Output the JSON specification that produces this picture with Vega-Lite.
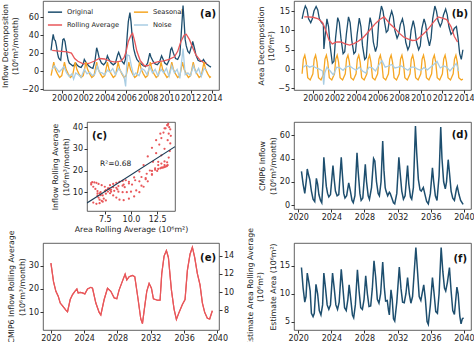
{
"$schema": "https://vega.github.io/schema/vega-lite/v6.json",
"background": "white",
"padding": {"left": 0, "top": 0, "right": 0, "bottom": 0},
"bounds": "flush",
"align": "each",
"center": true,
"columns": 2,
"spacing": {"row": 32, "column": 75},
"resolve": {"scale": {"color": "independent"}, "legend": {"color": "independent"}},
"config": {
 "view": {"stroke": "#3a3a3a", "strokeWidth": 0.8},
 "font": "DejaVu Sans",
 "axis": {"grid": false, "domain": false, "labelFont": "DejaVu Sans", "titleFont": "DejaVu Sans", "labelFontSize": 8, "titleFontSize": 7.8, "titleFontWeight": "normal", "tickSize": 3, "tickColor": "#333", "labelColor": "#222", "titleColor": "#222", "labelPadding": 1.5, "titlePadding": 2, "titleLineHeight": 10.5, "labelFlush": false, "labelOverlap": false}
},
"datasets": {
 "a": [
  {"s":"Original","t":1999.0,"v":23},{"s":"Original","t":1999.1,"v":33},{"s":"Original","t":1999.2,"v":41},{"s":"Original","t":1999.3,"v":35},{"s":"Original","t":1999.4,"v":34},{"s":"Original","t":1999.5,"v":28},{"s":"Original","t":1999.6,"v":20},{"s":"Original","t":1999.7,"v":15},{"s":"Original","t":1999.8,"v":13},{"s":"Original","t":1999.9,"v":12},
  {"s":"Original","t":2000.0,"v":24},{"s":"Original","t":2000.1,"v":35},{"s":"Original","t":2000.2,"v":36},{"s":"Original","t":2000.3,"v":33},{"s":"Original","t":2000.4,"v":25},{"s":"Original","t":2000.5,"v":18},{"s":"Original","t":2000.6,"v":12},{"s":"Original","t":2000.7,"v":9},{"s":"Original","t":2000.8,"v":8},{"s":"Original","t":2000.9,"v":7},
  {"s":"Original","t":2001.0,"v":6},{"s":"Original","t":2001.1,"v":6},{"s":"Original","t":2001.2,"v":8},{"s":"Original","t":2001.3,"v":9},{"s":"Original","t":2001.4,"v":7},{"s":"Original","t":2001.6,"v":5},{"s":"Original","t":2001.8,"v":4},
  {"s":"Original","t":2002.0,"v":8},{"s":"Original","t":2002.1,"v":13},{"s":"Original","t":2002.2,"v":11},{"s":"Original","t":2002.3,"v":9},{"s":"Original","t":2002.5,"v":6},{"s":"Original","t":2002.7,"v":4},{"s":"Original","t":2002.9,"v":3},
  {"s":"Original","t":2003.1,"v":12},{"s":"Original","t":2003.25,"v":26},{"s":"Original","t":2003.35,"v":22},{"s":"Original","t":2003.5,"v":14},{"s":"Original","t":2003.7,"v":9},{"s":"Original","t":2003.9,"v":7},
  {"s":"Original","t":2004.1,"v":10},{"s":"Original","t":2004.25,"v":17},{"s":"Original","t":2004.4,"v":13},{"s":"Original","t":2004.6,"v":9},{"s":"Original","t":2004.8,"v":7},
  {"s":"Original","t":2005.0,"v":9},{"s":"Original","t":2005.2,"v":18},{"s":"Original","t":2005.3,"v":21},{"s":"Original","t":2005.45,"v":16},{"s":"Original","t":2005.6,"v":11},{"s":"Original","t":2005.8,"v":8},{"s":"Original","t":2005.95,"v":14},
  {"s":"Original","t":2006.1,"v":40},{"s":"Original","t":2006.2,"v":55},{"s":"Original","t":2006.35,"v":65},{"s":"Original","t":2006.45,"v":55},{"s":"Original","t":2006.55,"v":40},{"s":"Original","t":2006.7,"v":25},{"s":"Original","t":2006.85,"v":18},
  {"s":"Original","t":2007.0,"v":13},{"s":"Original","t":2007.2,"v":10},{"s":"Original","t":2007.4,"v":8},{"s":"Original","t":2007.6,"v":6},{"s":"Original","t":2007.8,"v":5},
  {"s":"Original","t":2008.0,"v":9},{"s":"Original","t":2008.2,"v":20},{"s":"Original","t":2008.3,"v":16},{"s":"Original","t":2008.5,"v":11},{"s":"Original","t":2008.7,"v":8},{"s":"Original","t":2008.9,"v":7},
  {"s":"Original","t":2009.1,"v":10},{"s":"Original","t":2009.3,"v":17},{"s":"Original","t":2009.45,"v":13},{"s":"Original","t":2009.6,"v":9},{"s":"Original","t":2009.8,"v":7},
  {"s":"Original","t":2010.0,"v":12},{"s":"Original","t":2010.15,"v":24},{"s":"Original","t":2010.25,"v":26},{"s":"Original","t":2010.4,"v":20},{"s":"Original","t":2010.6,"v":14},{"s":"Original","t":2010.8,"v":13},
  {"s":"Original","t":2011.0,"v":18},{"s":"Original","t":2011.15,"v":45},{"s":"Original","t":2011.3,"v":73},{"s":"Original","t":2011.4,"v":55},{"s":"Original","t":2011.5,"v":35},{"s":"Original","t":2011.6,"v":28},{"s":"Original","t":2011.75,"v":22},{"s":"Original","t":2011.9,"v":20},
  {"s":"Original","t":2012.1,"v":28},{"s":"Original","t":2012.2,"v":33},{"s":"Original","t":2012.35,"v":26},{"s":"Original","t":2012.5,"v":18},{"s":"Original","t":2012.7,"v":12},{"s":"Original","t":2012.9,"v":11},
  {"s":"Original","t":2013.1,"v":11},{"s":"Original","t":2013.2,"v":13},{"s":"Original","t":2013.35,"v":10},{"s":"Original","t":2013.5,"v":8},{"s":"Original","t":2013.7,"v":6},{"s":"Original","t":2013.9,"v":4.5},
  {"s":"Rolling Average","t":1999.1,"v":23},{"s":"Rolling Average","t":1999.5,"v":22.5},{"s":"Rolling Average","t":2000.0,"v":22},{"s":"Rolling Average","t":2000.5,"v":21.5},{"s":"Rolling Average","t":2000.9,"v":20},{"s":"Rolling Average","t":2001.2,"v":14},{"s":"Rolling Average","t":2001.5,"v":11},{"s":"Rolling Average","t":2002.0,"v":8},{"s":"Rolling Average","t":2002.5,"v":8.5},{"s":"Rolling Average","t":2003.0,"v":11},{"s":"Rolling Average","t":2003.5,"v":14},{"s":"Rolling Average","t":2004.0,"v":13.5},{"s":"Rolling Average","t":2004.5,"v":11},{"s":"Rolling Average","t":2005.0,"v":10},{"s":"Rolling Average","t":2005.5,"v":11},{"s":"Rolling Average","t":2005.8,"v":15},{"s":"Rolling Average","t":2006.0,"v":22},{"s":"Rolling Average","t":2006.2,"v":33},{"s":"Rolling Average","t":2006.45,"v":40},{"s":"Rolling Average","t":2006.6,"v":42},{"s":"Rolling Average","t":2006.8,"v":33},{"s":"Rolling Average","t":2007.0,"v":22},{"s":"Rolling Average","t":2007.3,"v":12},{"s":"Rolling Average","t":2007.7,"v":6},{"s":"Rolling Average","t":2008.0,"v":6},{"s":"Rolling Average","t":2008.5,"v":9},{"s":"Rolling Average","t":2009.0,"v":10.5},{"s":"Rolling Average","t":2009.5,"v":11.5},{"s":"Rolling Average","t":2010.0,"v":13},{"s":"Rolling Average","t":2010.5,"v":16},{"s":"Rolling Average","t":2010.8,"v":22},{"s":"Rolling Average","t":2011.1,"v":33},{"s":"Rolling Average","t":2011.4,"v":40},{"s":"Rolling Average","t":2011.6,"v":41},{"s":"Rolling Average","t":2011.9,"v":35},{"s":"Rolling Average","t":2012.2,"v":26},{"s":"Rolling Average","t":2012.5,"v":18},{"s":"Rolling Average","t":2012.9,"v":12},{"s":"Rolling Average","t":2013.3,"v":9},{"s":"Rolling Average","t":2013.5,"v":8.5},
  {"s":"Seasonal","t":1999.0,"v":-5},{"s":"Seasonal","t":1999.12,"v":2},{"s":"Seasonal","t":1999.25,"v":10},{"s":"Seasonal","t":1999.4,"v":2},{"s":"Seasonal","t":1999.6,"v":-3},{"s":"Seasonal","t":1999.8,"v":-7},
  {"s":"Seasonal","t":2000.0,"v":-5},{"s":"Seasonal","t":2000.12,"v":2},{"s":"Seasonal","t":2000.25,"v":10},{"s":"Seasonal","t":2000.4,"v":2},{"s":"Seasonal","t":2000.6,"v":-3},{"s":"Seasonal","t":2000.8,"v":-7},
  {"s":"Seasonal","t":2001.0,"v":-5},{"s":"Seasonal","t":2001.12,"v":2},{"s":"Seasonal","t":2001.25,"v":10},{"s":"Seasonal","t":2001.4,"v":2},{"s":"Seasonal","t":2001.6,"v":-3},{"s":"Seasonal","t":2001.8,"v":-7},
  {"s":"Seasonal","t":2002.0,"v":-5},{"s":"Seasonal","t":2002.12,"v":2},{"s":"Seasonal","t":2002.25,"v":10},{"s":"Seasonal","t":2002.4,"v":2},{"s":"Seasonal","t":2002.6,"v":-3},{"s":"Seasonal","t":2002.8,"v":-7},
  {"s":"Seasonal","t":2003.0,"v":-5},{"s":"Seasonal","t":2003.12,"v":2},{"s":"Seasonal","t":2003.25,"v":10},{"s":"Seasonal","t":2003.4,"v":2},{"s":"Seasonal","t":2003.6,"v":-3},{"s":"Seasonal","t":2003.8,"v":-7},
  {"s":"Seasonal","t":2004.0,"v":-5},{"s":"Seasonal","t":2004.12,"v":2},{"s":"Seasonal","t":2004.25,"v":10},{"s":"Seasonal","t":2004.4,"v":2},{"s":"Seasonal","t":2004.6,"v":-3},{"s":"Seasonal","t":2004.8,"v":-7},
  {"s":"Seasonal","t":2005.0,"v":-5},{"s":"Seasonal","t":2005.12,"v":2},{"s":"Seasonal","t":2005.25,"v":10},{"s":"Seasonal","t":2005.4,"v":2},{"s":"Seasonal","t":2005.6,"v":-3},{"s":"Seasonal","t":2005.8,"v":-7},
  {"s":"Seasonal","t":2006.0,"v":-5},{"s":"Seasonal","t":2006.12,"v":2},{"s":"Seasonal","t":2006.25,"v":10},{"s":"Seasonal","t":2006.4,"v":2},{"s":"Seasonal","t":2006.6,"v":-3},{"s":"Seasonal","t":2006.8,"v":-7},
  {"s":"Seasonal","t":2007.0,"v":-5},{"s":"Seasonal","t":2007.12,"v":2},{"s":"Seasonal","t":2007.25,"v":10},{"s":"Seasonal","t":2007.4,"v":2},{"s":"Seasonal","t":2007.6,"v":-3},{"s":"Seasonal","t":2007.8,"v":-7},
  {"s":"Seasonal","t":2008.0,"v":-5},{"s":"Seasonal","t":2008.12,"v":2},{"s":"Seasonal","t":2008.25,"v":10},{"s":"Seasonal","t":2008.4,"v":2},{"s":"Seasonal","t":2008.6,"v":-3},{"s":"Seasonal","t":2008.8,"v":-7},
  {"s":"Seasonal","t":2009.0,"v":-5},{"s":"Seasonal","t":2009.12,"v":2},{"s":"Seasonal","t":2009.25,"v":10},{"s":"Seasonal","t":2009.4,"v":2},{"s":"Seasonal","t":2009.6,"v":-3},{"s":"Seasonal","t":2009.8,"v":-7},
  {"s":"Seasonal","t":2010.0,"v":-5},{"s":"Seasonal","t":2010.12,"v":2},{"s":"Seasonal","t":2010.25,"v":10},{"s":"Seasonal","t":2010.4,"v":2},{"s":"Seasonal","t":2010.6,"v":-3},{"s":"Seasonal","t":2010.8,"v":-7},
  {"s":"Seasonal","t":2011.0,"v":-5},{"s":"Seasonal","t":2011.12,"v":2},{"s":"Seasonal","t":2011.25,"v":10},{"s":"Seasonal","t":2011.4,"v":2},{"s":"Seasonal","t":2011.6,"v":-3},{"s":"Seasonal","t":2011.8,"v":-7},
  {"s":"Seasonal","t":2012.0,"v":-5},{"s":"Seasonal","t":2012.12,"v":2},{"s":"Seasonal","t":2012.25,"v":10},{"s":"Seasonal","t":2012.4,"v":2},{"s":"Seasonal","t":2012.6,"v":-3},{"s":"Seasonal","t":2012.8,"v":-7},
  {"s":"Seasonal","t":2013.0,"v":-5},{"s":"Seasonal","t":2013.12,"v":2},{"s":"Seasonal","t":2013.25,"v":10},{"s":"Seasonal","t":2013.4,"v":2},{"s":"Seasonal","t":2013.6,"v":-3},{"s":"Seasonal","t":2013.8,"v":-7},{"s":"Seasonal","t":2013.9,"v":-6},
  {"s":"Noise","t":1999.1,"v":2},{"s":"Noise","t":1999.3,"v":6},{"s":"Noise","t":1999.5,"v":3},{"s":"Noise","t":1999.75,"v":-1},{"s":"Noise","t":2000.0,"v":2},{"s":"Noise","t":2000.2,"v":5},{"s":"Noise","t":2000.45,"v":-2},{"s":"Noise","t":2000.7,"v":-6},{"s":"Noise","t":2000.95,"v":-3},{"s":"Noise","t":2001.1,"v":-9},{"s":"Noise","t":2001.3,"v":-2},{"s":"Noise","t":2001.55,"v":-4},{"s":"Noise","t":2001.8,"v":-7},{"s":"Noise","t":2002.1,"v":2},{"s":"Noise","t":2002.35,"v":-3},{"s":"Noise","t":2002.6,"v":-1},{"s":"Noise","t":2002.85,"v":-5},{"s":"Noise","t":2003.1,"v":-3},{"s":"Noise","t":2003.3,"v":6},{"s":"Noise","t":2003.5,"v":-1},{"s":"Noise","t":2003.75,"v":-2},{"s":"Noise","t":2004.0,"v":-4},{"s":"Noise","t":2004.25,"v":1},{"s":"Noise","t":2004.5,"v":-1},{"s":"Noise","t":2004.75,"v":3},{"s":"Noise","t":2005.0,"v":-4},{"s":"Noise","t":2005.3,"v":3},{"s":"Noise","t":2005.55,"v":-1},{"s":"Noise","t":2005.8,"v":-6},{"s":"Noise","t":2005.95,"v":-17},{"s":"Noise","t":2006.1,"v":18},{"s":"Noise","t":2006.3,"v":17},{"s":"Noise","t":2006.5,"v":5},{"s":"Noise","t":2006.7,"v":-5},{"s":"Noise","t":2006.9,"v":-2},{"s":"Noise","t":2007.2,"v":-5},{"s":"Noise","t":2007.45,"v":3},{"s":"Noise","t":2007.7,"v":1},{"s":"Noise","t":2007.95,"v":-4},{"s":"Noise","t":2008.2,"v":5},{"s":"Noise","t":2008.45,"v":-2},{"s":"Noise","t":2008.7,"v":2},{"s":"Noise","t":2008.95,"v":-5},{"s":"Noise","t":2009.25,"v":2},{"s":"Noise","t":2009.5,"v":-2},{"s":"Noise","t":2009.75,"v":3},{"s":"Noise","t":2010.0,"v":-6},{"s":"Noise","t":2010.25,"v":6},{"s":"Noise","t":2010.5,"v":-2},{"s":"Noise","t":2010.75,"v":2},{"s":"Noise","t":2011.0,"v":-8},{"s":"Noise","t":2011.3,"v":25},{"s":"Noise","t":2011.5,"v":-4},{"s":"Noise","t":2011.75,"v":-2},{"s":"Noise","t":2012.0,"v":-5},{"s":"Noise","t":2012.25,"v":6},{"s":"Noise","t":2012.5,"v":-2},{"s":"Noise","t":2012.75,"v":3},{"s":"Noise","t":2013.0,"v":-6},{"s":"Noise","t":2013.25,"v":3},{"s":"Noise","t":2013.5,"v":1}
 ],
 "b": [
  {"s":"Original","t":1999.0,"v":13},{"s":"Original","t":1999.15,"v":15},{"s":"Original","t":1999.3,"v":16.3},{"s":"Original","t":1999.45,"v":15.5},{"s":"Original","t":1999.6,"v":13},{"s":"Original","t":1999.8,"v":12},{"s":"Original","t":1999.95,"v":13},
  {"s":"Original","t":2000.1,"v":15},{"s":"Original","t":2000.3,"v":16.2},{"s":"Original","t":2000.45,"v":15.3},{"s":"Original","t":2000.6,"v":13},{"s":"Original","t":2000.8,"v":12},{"s":"Original","t":2000.97,"v":11.5},{"s":"Original","t":2001.02,"v":5.2},
  {"s":"Original","t":2001.15,"v":9},{"s":"Original","t":2001.3,"v":13},{"s":"Original","t":2001.45,"v":11},{"s":"Original","t":2001.6,"v":6},{"s":"Original","t":2001.8,"v":1.5},{"s":"Original","t":2001.95,"v":2},
  {"s":"Original","t":2002.1,"v":8},{"s":"Original","t":2002.3,"v":13.3},{"s":"Original","t":2002.45,"v":12},{"s":"Original","t":2002.6,"v":8},{"s":"Original","t":2002.8,"v":4},{"s":"Original","t":2002.95,"v":4.5},
  {"s":"Original","t":2003.1,"v":9},{"s":"Original","t":2003.3,"v":13.5},{"s":"Original","t":2003.45,"v":12},{"s":"Original","t":2003.6,"v":7.5},{"s":"Original","t":2003.8,"v":4},{"s":"Original","t":2003.95,"v":4.5},
  {"s":"Original","t":2004.1,"v":9},{"s":"Original","t":2004.3,"v":13.2},{"s":"Original","t":2004.45,"v":11},{"s":"Original","t":2004.6,"v":6},{"s":"Original","t":2004.8,"v":2.5},{"s":"Original","t":2004.95,"v":3},
  {"s":"Original","t":2005.1,"v":9},{"s":"Original","t":2005.3,"v":13.3},{"s":"Original","t":2005.45,"v":11.5},{"s":"Original","t":2005.6,"v":7},{"s":"Original","t":2005.8,"v":4.5},{"s":"Original","t":2005.95,"v":6},
  {"s":"Original","t":2006.1,"v":12},{"s":"Original","t":2006.35,"v":16.3},{"s":"Original","t":2006.5,"v":15},{"s":"Original","t":2006.65,"v":12},{"s":"Original","t":2006.8,"v":9.5},{"s":"Original","t":2006.95,"v":10},
  {"s":"Original","t":2007.1,"v":13},{"s":"Original","t":2007.3,"v":15},{"s":"Original","t":2007.45,"v":13.5},{"s":"Original","t":2007.6,"v":10},{"s":"Original","t":2007.8,"v":8},{"s":"Original","t":2007.95,"v":9},
  {"s":"Original","t":2008.1,"v":11.5},{"s":"Original","t":2008.3,"v":13},{"s":"Original","t":2008.45,"v":11},{"s":"Original","t":2008.6,"v":7},{"s":"Original","t":2008.8,"v":5},{"s":"Original","t":2008.95,"v":6},
  {"s":"Original","t":2009.1,"v":10},{"s":"Original","t":2009.3,"v":12.5},{"s":"Original","t":2009.45,"v":10.5},{"s":"Original","t":2009.6,"v":7},{"s":"Original","t":2009.8,"v":5},{"s":"Original","t":2009.95,"v":6},
  {"s":"Original","t":2010.1,"v":10.5},{"s":"Original","t":2010.3,"v":13},{"s":"Original","t":2010.45,"v":11.5},{"s":"Original","t":2010.6,"v":8.5},{"s":"Original","t":2010.8,"v":6},{"s":"Original","t":2010.95,"v":8},
  {"s":"Original","t":2011.1,"v":13},{"s":"Original","t":2011.3,"v":16.3},{"s":"Original","t":2011.45,"v":15},{"s":"Original","t":2011.6,"v":12.5},{"s":"Original","t":2011.8,"v":11},{"s":"Original","t":2011.95,"v":12},
  {"s":"Original","t":2012.1,"v":14},{"s":"Original","t":2012.3,"v":15.5},{"s":"Original","t":2012.45,"v":14},{"s":"Original","t":2012.6,"v":11},{"s":"Original","t":2012.8,"v":9},{"s":"Original","t":2012.95,"v":9.5},
  {"s":"Original","t":2013.1,"v":10.5},{"s":"Original","t":2013.3,"v":11},{"s":"Original","t":2013.45,"v":8},{"s":"Original","t":2013.6,"v":4},{"s":"Original","t":2013.75,"v":2.5},{"s":"Original","t":2013.9,"v":5},
  {"s":"Rolling Average","t":1999.2,"v":13.5},{"s":"Rolling Average","t":1999.5,"v":13.5},{"s":"Rolling Average","t":2000.0,"v":13.4},{"s":"Rolling Average","t":2000.5,"v":13},{"s":"Rolling Average","t":2000.9,"v":12},{"s":"Rolling Average","t":2001.2,"v":10},{"s":"Rolling Average","t":2001.5,"v":7.5},{"s":"Rolling Average","t":2001.8,"v":6.5},{"s":"Rolling Average","t":2002.2,"v":7},{"s":"Rolling Average","t":2002.6,"v":7},{"s":"Rolling Average","t":2003.0,"v":6.5},{"s":"Rolling Average","t":2003.4,"v":6.2},{"s":"Rolling Average","t":2003.8,"v":6.6},{"s":"Rolling Average","t":2004.2,"v":7.2},{"s":"Rolling Average","t":2004.6,"v":8},{"s":"Rolling Average","t":2005.0,"v":9.2},{"s":"Rolling Average","t":2005.4,"v":10.5},{"s":"Rolling Average","t":2005.8,"v":11.8},{"s":"Rolling Average","t":2006.2,"v":12.8},{"s":"Rolling Average","t":2006.6,"v":13.5},{"s":"Rolling Average","t":2006.9,"v":12.5},{"s":"Rolling Average","t":2007.2,"v":11.5},{"s":"Rolling Average","t":2007.6,"v":10.5},{"s":"Rolling Average","t":2008.0,"v":9.3},{"s":"Rolling Average","t":2008.4,"v":8.3},{"s":"Rolling Average","t":2008.8,"v":7.8},{"s":"Rolling Average","t":2009.2,"v":7.4},{"s":"Rolling Average","t":2009.6,"v":7.5},{"s":"Rolling Average","t":2010.0,"v":8.5},{"s":"Rolling Average","t":2010.4,"v":9.5},{"s":"Rolling Average","t":2010.8,"v":10.8},{"s":"Rolling Average","t":2011.2,"v":12.2},{"s":"Rolling Average","t":2011.6,"v":13.5},{"s":"Rolling Average","t":2012.0,"v":13.2},{"s":"Rolling Average","t":2012.4,"v":12.8},{"s":"Rolling Average","t":2012.8,"v":11},{"s":"Rolling Average","t":2013.1,"v":8.5},{"s":"Rolling Average","t":2013.4,"v":7},
  {"s":"Seasonal","t":1999.0,"v":-1.2},{"s":"Seasonal","t":1999.12,"v":2.6},{"s":"Seasonal","t":1999.25,"v":3.6},{"s":"Seasonal","t":1999.38,"v":1.8},{"s":"Seasonal","t":1999.52,"v":-2.2},{"s":"Seasonal","t":1999.75,"v":-2.8},
  {"s":"Seasonal","t":2000.0,"v":-1.2},{"s":"Seasonal","t":2000.12,"v":2.6},{"s":"Seasonal","t":2000.25,"v":3.6},{"s":"Seasonal","t":2000.38,"v":1.8},{"s":"Seasonal","t":2000.52,"v":-2.2},{"s":"Seasonal","t":2000.75,"v":-2.8},
  {"s":"Seasonal","t":2001.0,"v":-1.2},{"s":"Seasonal","t":2001.12,"v":2.6},{"s":"Seasonal","t":2001.25,"v":3.6},{"s":"Seasonal","t":2001.38,"v":1.8},{"s":"Seasonal","t":2001.52,"v":-2.2},{"s":"Seasonal","t":2001.75,"v":-2.8},
  {"s":"Seasonal","t":2002.0,"v":-1.2},{"s":"Seasonal","t":2002.12,"v":2.6},{"s":"Seasonal","t":2002.25,"v":3.6},{"s":"Seasonal","t":2002.38,"v":1.8},{"s":"Seasonal","t":2002.52,"v":-2.2},{"s":"Seasonal","t":2002.75,"v":-2.8},
  {"s":"Seasonal","t":2003.0,"v":-1.2},{"s":"Seasonal","t":2003.12,"v":2.6},{"s":"Seasonal","t":2003.25,"v":3.6},{"s":"Seasonal","t":2003.38,"v":1.8},{"s":"Seasonal","t":2003.52,"v":-2.2},{"s":"Seasonal","t":2003.75,"v":-2.8},
  {"s":"Seasonal","t":2004.0,"v":-1.2},{"s":"Seasonal","t":2004.12,"v":2.6},{"s":"Seasonal","t":2004.25,"v":3.6},{"s":"Seasonal","t":2004.38,"v":1.8},{"s":"Seasonal","t":2004.52,"v":-2.2},{"s":"Seasonal","t":2004.75,"v":-2.8},
  {"s":"Seasonal","t":2005.0,"v":-1.2},{"s":"Seasonal","t":2005.12,"v":2.6},{"s":"Seasonal","t":2005.25,"v":3.6},{"s":"Seasonal","t":2005.38,"v":1.8},{"s":"Seasonal","t":2005.52,"v":-2.2},{"s":"Seasonal","t":2005.75,"v":-2.8},
  {"s":"Seasonal","t":2006.0,"v":-1.2},{"s":"Seasonal","t":2006.12,"v":2.6},{"s":"Seasonal","t":2006.25,"v":3.6},{"s":"Seasonal","t":2006.38,"v":1.8},{"s":"Seasonal","t":2006.52,"v":-2.2},{"s":"Seasonal","t":2006.75,"v":-2.8},
  {"s":"Seasonal","t":2007.0,"v":-1.2},{"s":"Seasonal","t":2007.12,"v":2.6},{"s":"Seasonal","t":2007.25,"v":3.6},{"s":"Seasonal","t":2007.38,"v":1.8},{"s":"Seasonal","t":2007.52,"v":-2.2},{"s":"Seasonal","t":2007.75,"v":-2.8},
  {"s":"Seasonal","t":2008.0,"v":-1.2},{"s":"Seasonal","t":2008.12,"v":2.6},{"s":"Seasonal","t":2008.25,"v":3.6},{"s":"Seasonal","t":2008.38,"v":1.8},{"s":"Seasonal","t":2008.52,"v":-2.2},{"s":"Seasonal","t":2008.75,"v":-2.8},
  {"s":"Seasonal","t":2009.0,"v":-1.2},{"s":"Seasonal","t":2009.12,"v":2.6},{"s":"Seasonal","t":2009.25,"v":3.6},{"s":"Seasonal","t":2009.38,"v":1.8},{"s":"Seasonal","t":2009.52,"v":-2.2},{"s":"Seasonal","t":2009.75,"v":-2.8},
  {"s":"Seasonal","t":2010.0,"v":-1.2},{"s":"Seasonal","t":2010.12,"v":2.6},{"s":"Seasonal","t":2010.25,"v":3.6},{"s":"Seasonal","t":2010.38,"v":1.8},{"s":"Seasonal","t":2010.52,"v":-2.2},{"s":"Seasonal","t":2010.75,"v":-2.8},
  {"s":"Seasonal","t":2011.0,"v":-1.2},{"s":"Seasonal","t":2011.12,"v":2.6},{"s":"Seasonal","t":2011.25,"v":3.6},{"s":"Seasonal","t":2011.38,"v":1.8},{"s":"Seasonal","t":2011.52,"v":-2.2},{"s":"Seasonal","t":2011.75,"v":-2.8},
  {"s":"Seasonal","t":2012.0,"v":-1.2},{"s":"Seasonal","t":2012.12,"v":2.6},{"s":"Seasonal","t":2012.25,"v":3.6},{"s":"Seasonal","t":2012.38,"v":1.8},{"s":"Seasonal","t":2012.52,"v":-2.2},{"s":"Seasonal","t":2012.75,"v":-2.8},
  {"s":"Seasonal","t":2013.0,"v":-1.2},{"s":"Seasonal","t":2013.12,"v":2.6},{"s":"Seasonal","t":2013.25,"v":3.6},{"s":"Seasonal","t":2013.38,"v":1.8},{"s":"Seasonal","t":2013.52,"v":-2.2},{"s":"Seasonal","t":2013.75,"v":-2.8},{"s":"Seasonal","t":2013.9,"v":-2.6},
  {"s":"Noise","t":1999.1,"v":0.5},{"s":"Noise","t":1999.4,"v":1},{"s":"Noise","t":1999.7,"v":0.5},{"s":"Noise","t":2000.0,"v":0.8},{"s":"Noise","t":2000.3,"v":0.3},{"s":"Noise","t":2000.6,"v":0},{"s":"Noise","t":2000.9,"v":-0.5},{"s":"Noise","t":2001.0,"v":-4},{"s":"Noise","t":2001.1,"v":-1},{"s":"Noise","t":2001.3,"v":0.5},{"s":"Noise","t":2001.6,"v":-0.5},{"s":"Noise","t":2001.9,"v":-1.5},{"s":"Noise","t":2002.2,"v":0.5},{"s":"Noise","t":2002.5,"v":0.3},{"s":"Noise","t":2002.8,"v":-0.3},{"s":"Noise","t":2003.1,"v":0.6},{"s":"Noise","t":2003.4,"v":0.8},{"s":"Noise","t":2003.7,"v":0.2},{"s":"Noise","t":2004.0,"v":-0.3},{"s":"Noise","t":2004.3,"v":0.5},{"s":"Noise","t":2004.6,"v":-0.5},{"s":"Noise","t":2004.9,"v":-1},{"s":"Noise","t":2005.2,"v":0.5},{"s":"Noise","t":2005.5,"v":0.3},{"s":"Noise","t":2005.8,"v":-0.5},{"s":"Noise","t":2006.1,"v":1},{"s":"Noise","t":2006.4,"v":2.2},{"s":"Noise","t":2006.7,"v":0.5},{"s":"Noise","t":2007.0,"v":0.8},{"s":"Noise","t":2007.3,"v":1.2},{"s":"Noise","t":2007.6,"v":0.3},{"s":"Noise","t":2007.9,"v":0.5},{"s":"Noise","t":2008.2,"v":0.8},{"s":"Noise","t":2008.5,"v":0.2},{"s":"Noise","t":2008.8,"v":-0.3},{"s":"Noise","t":2009.1,"v":0.5},{"s":"Noise","t":2009.4,"v":0.5},{"s":"Noise","t":2009.7,"v":0},{"s":"Noise","t":2010.0,"v":-0.3},{"s":"Noise","t":2010.3,"v":0.4},{"s":"Noise","t":2010.6,"v":-0.2},{"s":"Noise","t":2010.9,"v":0.5},{"s":"Noise","t":2011.2,"v":1.2},{"s":"Noise","t":2011.5,"v":2},{"s":"Noise","t":2011.8,"v":0.3},{"s":"Noise","t":2012.1,"v":0.8},{"s":"Noise","t":2012.4,"v":0.5},{"s":"Noise","t":2012.7,"v":-0.5},{"s":"Noise","t":2013.0,"v":0.5},{"s":"Noise","t":2013.3,"v":1.5},{"s":"Noise","t":2013.5,"v":-0.5}
 ],
 "c": [
  {"x":13.5,"y":22.5},{"x":13.45,"y":22.3},{"x":13.4,"y":22},{"x":13.3,"y":21.8},{"x":13.2,"y":21.6},{"x":13.1,"y":21.5},{"x":13.0,"y":21.3},{"x":12.8,"y":21},{"x":12.6,"y":20.7},{"x":12.3,"y":20.3},{"x":12.0,"y":19.8},
  {"x":11.5,"y":18.5},{"x":11.0,"y":17},{"x":10.4,"y":15.5},{"x":9.8,"y":14},{"x":9.2,"y":13},{"x":8.6,"y":12},{"x":8.0,"y":11},{"x":7.5,"y":10.5},{"x":7.1,"y":10},{"x":6.8,"y":9.5},
  {"x":6.8,"y":8.5},{"x":6.9,"y":7.5},{"x":7.0,"y":6.5},{"x":7.2,"y":6},{"x":7.4,"y":7},{"x":7.3,"y":8.5},{"x":7.0,"y":9.5},{"x":6.8,"y":10.5},{"x":6.6,"y":11.5},{"x":6.4,"y":12.5},{"x":6.2,"y":13.5},{"x":6.2,"y":14.2},{"x":6.3,"y":14.6},{"x":6.5,"y":14.5},
  {"x":6.4,"y":5.2},{"x":6.7,"y":4.6},{"x":7.0,"y":4.9},{"x":7.3,"y":5.6},{"x":7.6,"y":6.2},
  {"x":6.7,"y":14.3},{"x":6.9,"y":13.8},{"x":7.2,"y":13.2},{"x":7.5,"y":12.5},{"x":7.8,"y":11.8},{"x":8.1,"y":11.2},{"x":8.4,"y":10.6},{"x":8.8,"y":10.2},{"x":9.2,"y":10},{"x":9.6,"y":10},{"x":10.0,"y":10.2},{"x":10.5,"y":10.8},
  {"x":8.0,"y":13.2},{"x":8.3,"y":13.8},{"x":8.6,"y":14.3},{"x":8.9,"y":14.8},{"x":9.2,"y":15.2},{"x":9.5,"y":15.5},
  {"x":11.0,"y":13},{"x":11.4,"y":16},{"x":11.8,"y":20},{"x":12.1,"y":24},{"x":12.4,"y":28},{"x":12.7,"y":32},{"x":12.9,"y":35},{"x":13.1,"y":37.5},{"x":13.3,"y":39.5},{"x":13.45,"y":41},{"x":13.55,"y":41.5},
  {"x":13.65,"y":40},{"x":13.6,"y":37},{"x":13.5,"y":34},{"x":13.2,"y":30},{"x":12.9,"y":27},{"x":12.6,"y":24},{"x":12.3,"y":21},{"x":12.0,"y":18},{"x":11.6,"y":15},{"x":11.2,"y":12.5},{"x":10.8,"y":10},{"x":10.3,"y":8},{"x":9.8,"y":7},{"x":9.3,"y":6.3},{"x":8.9,"y":6.5},
  {"x":8.6,"y":7.5},{"x":8.3,"y":8.5},{"x":8.0,"y":9.5},{"x":7.8,"y":10.3},{"x":7.6,"y":11},
  {"x":7.9,"y":11.8},{"x":8.3,"y":12.3},{"x":8.8,"y":12.8},{"x":9.3,"y":13.5},{"x":9.8,"y":14.8},{"x":10.3,"y":16.8},{"x":10.8,"y":19.5},{"x":11.2,"y":22.5},{"x":11.6,"y":26.5},{"x":12.0,"y":30.5},{"x":12.4,"y":34},{"x":12.8,"y":37},{"x":13.2,"y":39.5},{"x":13.5,"y":40.8},
  {"x":13.75,"y":39},{"x":13.8,"y":36},{"x":13.75,"y":32.5},{"x":13.7,"y":29},{"x":13.6,"y":26},{"x":13.45,"y":23.8},{"x":13.2,"y":22.5},{"x":12.9,"y":21.3},{"x":12.5,"y":19.8},{"x":12.0,"y":18.3},{"x":11.4,"y":16.5},{"x":10.8,"y":15},{"x":10.1,"y":13.5},{"x":9.4,"y":12.3},{"x":8.7,"y":11.3},{"x":8.1,"y":10.2},{"x":7.6,"y":9.3},{"x":7.1,"y":8.6},
  {"x":12.6,"y":22.5},{"x":12.9,"y":23.2},{"x":13.2,"y":24.2}
 ],
 "creg": [{"x":5.8,"y":5},{"x":14.2,"y":31}],
 "d": [
  {"t":2020.4,"v":29},{"t":2020.6,"v":18},{"t":2020.8,"v":10},{"t":2021.0,"v":22},{"t":2021.1,"v":31},{"t":2021.25,"v":26},{"t":2021.4,"v":22},{"t":2021.6,"v":12},{"t":2021.8,"v":5},{"t":2022.0,"v":3},{"t":2022.2,"v":23},{"t":2022.35,"v":18},{"t":2022.5,"v":9},{"t":2022.7,"v":4},{"t":2022.85,"v":2},{"t":2023.0,"v":20},{"t":2023.1,"v":41},{"t":2023.25,"v":28},{"t":2023.4,"v":16},{"t":2023.55,"v":10},{"t":2023.7,"v":7},{"t":2023.9,"v":9},{"t":2024.2,"v":34},{"t":2024.35,"v":22},{"t":2024.5,"v":12},{"t":2024.7,"v":8},{"t":2024.9,"v":9},{"t":2025.2,"v":41},{"t":2025.35,"v":25},{"t":2025.5,"v":10},{"t":2025.65,"v":6},{"t":2025.85,"v":8},{"t":2026.1,"v":19},{"t":2026.3,"v":12},{"t":2026.5,"v":4},{"t":2026.65,"v":2},{"t":2026.85,"v":8},{"t":2027.1,"v":45},{"t":2027.25,"v":28},{"t":2027.45,"v":10},{"t":2027.6,"v":4},{"t":2027.8,"v":6},{"t":2028.1,"v":35},{"t":2028.25,"v":20},{"t":2028.45,"v":8},{"t":2028.6,"v":5},{"t":2028.85,"v":15},{"t":2029.1,"v":40},{"t":2029.25,"v":38},{"t":2029.45,"v":20},{"t":2029.65,"v":10},{"t":2029.8,"v":8},{"t":2030.0,"v":20},{"t":2030.2,"v":55},{"t":2030.35,"v":30},{"t":2030.5,"v":15},{"t":2030.6,"v":12},{"t":2030.8,"v":8},{"t":2031.0,"v":11},{"t":2031.1,"v":10},{"t":2031.3,"v":6},{"t":2031.5,"v":2},{"t":2031.65,"v":1},{"t":2031.9,"v":10},{"t":2032.15,"v":41},{"t":2032.3,"v":28},{"t":2032.5,"v":12},{"t":2032.7,"v":5},{"t":2032.9,"v":8},{"t":2033.2,"v":34},{"t":2033.35,"v":18},{"t":2033.55,"v":7},{"t":2033.7,"v":5},{"t":2033.9,"v":15},{"t":2034.15,"v":68},{"t":2034.3,"v":45},{"t":2034.5,"v":22},{"t":2034.7,"v":13},{"t":2034.85,"v":12},{"t":2035.1,"v":15},{"t":2035.3,"v":9},{"t":2035.5,"v":3},{"t":2035.7,"v":1},{"t":2035.95,"v":10},{"t":2036.2,"v":32},{"t":2036.35,"v":20},{"t":2036.55,"v":8},{"t":2036.75,"v":4},{"t":2037.0,"v":25},{"t":2037.2,"v":67},{"t":2037.35,"v":40},{"t":2037.55,"v":20},{"t":2037.75,"v":14},{"t":2037.9,"v":20},{"t":2038.1,"v":39},{"t":2038.25,"v":28},{"t":2038.45,"v":12},{"t":2038.65,"v":6},{"t":2038.85,"v":4},{"t":2039.1,"v":14},{"t":2039.2,"v":16},{"t":2039.4,"v":9},{"t":2039.6,"v":4},{"t":2039.9,"v":0.5}
 ],
 "e": [
  {"t":2020.0,"v":31,"a":13.19},{"t":2020.32,"v":23,"a":11.12},{"t":2020.6,"v":19,"a":10.08},{"t":2020.88,"v":16.9,"a":9.54},{"t":2021.12,"v":14,"a":8.78},{"t":2021.4,"v":12.8,"a":8.47},{"t":2021.8,"v":11,"a":8.0},{"t":2022.0,"v":10.3,"a":7.82},{"t":2022.32,"v":15.5,"a":9.17},{"t":2022.6,"v":17.6,"a":9.72},{"t":2022.88,"v":19,"a":10.08},{"t":2023.12,"v":20,"a":10.34},{"t":2023.28,"v":18.3,"a":9.9},{"t":2023.52,"v":18.5,"a":9.95},{"t":2023.8,"v":18.3,"a":9.9},{"t":2024.08,"v":17.9,"a":9.79},{"t":2024.4,"v":20,"a":10.34},{"t":2024.8,"v":20.7,"a":10.52},{"t":2025.0,"v":20.3,"a":10.42},{"t":2025.4,"v":14,"a":8.78},{"t":2025.8,"v":10,"a":7.75},{"t":2026.0,"v":8.9,"a":7.46},{"t":2026.4,"v":15.5,"a":9.17},{"t":2026.8,"v":20.3,"a":10.42},{"t":2027.2,"v":19,"a":10.08},{"t":2027.6,"v":16.2,"a":9.35},{"t":2027.92,"v":15.8,"a":9.25},{"t":2028.2,"v":19.6,"a":10.24},{"t":2028.72,"v":24.5,"a":11.51},{"t":2028.92,"v":26.3,"a":11.97},{"t":2029.12,"v":23.8,"a":11.33},{"t":2029.4,"v":25.2,"a":11.69},{"t":2029.8,"v":25.8,"a":11.84},{"t":2030.08,"v":25.2,"a":11.69},{"t":2030.48,"v":15.5,"a":9.17},{"t":2030.8,"v":7.2,"a":7.02},{"t":2031.0,"v":5.2,"a":6.5},{"t":2031.28,"v":12.8,"a":8.47},{"t":2031.52,"v":19,"a":10.08},{"t":2031.8,"v":22.4,"a":10.96},{"t":2032.08,"v":20.3,"a":10.42},{"t":2032.32,"v":15.8,"a":9.25},{"t":2032.8,"v":15.2,"a":9.09},{"t":2033.12,"v":15.2,"a":9.09},{"t":2033.32,"v":26.5,"a":12.03},{"t":2033.6,"v":34,"a":13.97},{"t":2033.88,"v":36.4,"a":14.59},{"t":2034.12,"v":33.4,"a":13.82},{"t":2034.48,"v":19.6,"a":10.24},{"t":2034.8,"v":11.4,"a":8.11},{"t":2035.08,"v":7,"a":6.97},{"t":2035.4,"v":10,"a":7.75},{"t":2035.8,"v":13.4,"a":8.63},{"t":2036.12,"v":15.5,"a":9.17},{"t":2036.4,"v":27.9,"a":12.39},{"t":2036.72,"v":34.8,"a":14.18},{"t":2037.0,"v":37.8,"a":14.96},{"t":2037.28,"v":33.4,"a":13.82},{"t":2037.6,"v":26.5,"a":12.03},{"t":2037.92,"v":21.7,"a":10.78},{"t":2038.2,"v":14.1,"a":8.81},{"t":2038.48,"v":10,"a":7.75},{"t":2038.8,"v":7.5,"a":7.1},{"t":2039.08,"v":7.2,"a":7.02},{"t":2039.4,"v":10.7,"a":7.93}
 ],
 "f": [
  {"t":2020.4,"v":14.7},{"t":2020.6,"v":11},{"t":2020.8,"v":8.5},{"t":2020.95,"v":9.5},{"t":2021.1,"v":13.7},{"t":2021.3,"v":12},{"t":2021.45,"v":10.5},{"t":2021.6,"v":6.5},{"t":2021.8,"v":5.9},{"t":2021.95,"v":6.5},{"t":2022.15,"v":11.7},{"t":2022.35,"v":10},{"t":2022.55,"v":7},{"t":2022.75,"v":6.2},{"t":2022.95,"v":8},{"t":2023.1,"v":13.7},{"t":2023.3,"v":11},{"t":2023.5,"v":8},{"t":2023.7,"v":7.2},{"t":2023.9,"v":8},{"t":2024.15,"v":13.7},{"t":2024.35,"v":11},{"t":2024.55,"v":8},{"t":2024.75,"v":7.2},{"t":2024.95,"v":8.5},{"t":2025.2,"v":14.4},{"t":2025.4,"v":11},{"t":2025.6,"v":7.5},{"t":2025.8,"v":7},{"t":2026.0,"v":9},{"t":2026.15,"v":11.6},{"t":2026.35,"v":9},{"t":2026.55,"v":6.2},{"t":2026.7,"v":5.7},{"t":2026.9,"v":8},{"t":2027.15,"v":14.3},{"t":2027.35,"v":10.5},{"t":2027.55,"v":7.5},{"t":2027.75,"v":7.2},{"t":2027.95,"v":9},{"t":2028.15,"v":13.2},{"t":2028.35,"v":10},{"t":2028.55,"v":7.7},{"t":2028.75,"v":7.8},{"t":2028.95,"v":11},{"t":2029.15,"v":15.9},{"t":2029.35,"v":13},{"t":2029.55,"v":9},{"t":2029.75,"v":8.3},{"t":2029.95,"v":10},{"t":2030.2,"v":15.7},{"t":2030.4,"v":11},{"t":2030.55,"v":8.7},{"t":2030.75,"v":8.8},{"t":2030.9,"v":7},{"t":2031.0,"v":6.2},{"t":2031.2,"v":10.7},{"t":2031.35,"v":9},{"t":2031.5,"v":5.5},{"t":2031.65,"v":5.1},{"t":2031.9,"v":8.5},{"t":2032.2,"v":14.8},{"t":2032.4,"v":11},{"t":2032.6,"v":8.5},{"t":2032.8,"v":8.4},{"t":2033.0,"v":10},{"t":2033.2,"v":12.9},{"t":2033.4,"v":10},{"t":2033.6,"v":8.3},{"t":2033.8,"v":9.5},{"t":2034.2,"v":18.3},{"t":2034.4,"v":14},{"t":2034.6,"v":9.5},{"t":2034.8,"v":8.8},{"t":2035.15,"v":11.6},{"t":2035.35,"v":9},{"t":2035.55,"v":5},{"t":2035.7,"v":4.5},{"t":2035.95,"v":8},{"t":2036.2,"v":12.9},{"t":2036.4,"v":10},{"t":2036.6,"v":6.8},{"t":2036.8,"v":6.5},{"t":2037.0,"v":10},{"t":2037.25,"v":18.3},{"t":2037.45,"v":14},{"t":2037.65,"v":11},{"t":2037.8,"v":10.5},{"t":2038.0,"v":12},{"t":2038.25,"v":14.7},{"t":2038.45,"v":10.5},{"t":2038.65,"v":7},{"t":2038.85,"v":6.3},{"t":2039.15,"v":11.2},{"t":2039.3,"v":10},{"t":2039.5,"v":6},{"t":2039.65,"v":4.6},{"t":2039.8,"v":5.5},{"t":2039.95,"v":5.7}
 ]
},
"concat": [
 {"width": 176, "height": 89,
  "layer": [
   {"data": {"name": "a"}, "mark": {"type": "line", "strokeWidth": 1.3, "clip": true},
    "encoding": {
     "x": {"field": "t", "type": "quantitative", "scale": {"domain": [1998.25, 2014.65], "nice": false, "zero": false}, "axis": {"values": [2000,2002,2004,2006,2008,2010,2012,2014], "tickCount": 20, "format": "d", "title": null, "labelOverlap": false}},
     "y": {"field": "v", "type": "quantitative", "scale": {"domain": [-21, 78], "nice": false, "zero": false}, "axis": {"values": [-20,0,20,40,60], "tickCount": 20, "format": "d", "title": ["Inflow Decomposition", "(10⁶m³/month)"], "labelOverlap": false}},
     "color": {"field": "s", "type": "nominal", "scale": {"domain": ["Original","Rolling Average","Seasonal","Noise"], "range": ["#1d4e6e","#e8575a","#f5a623","#a9cde3"]},
       "legend": {"orient": "none", "legendX": 4, "legendY": 3, "columns": 2, "title": null, "symbolType": "stroke", "symbolSize": 200, "symbolStrokeWidth": 1.5, "labelFontSize": 6.7, "labelFont": "DejaVu Sans", "labelColor": "#222", "columnPadding": 10, "rowPadding": 1, "labelOffset": 4, "padding": 0}}
    }},
   {"data": {"values": [{"label": "(a)"}]}, "mark": {"type": "text", "fontWeight": "bold", "fontSize": 10, "align": "right", "baseline": "middle", "dx": -3, "dy": 13, "color": "#111"},
    "encoding": {"text": {"field": "label"}, "x": {"datum": 2014.65}, "y": {"datum": 78}}}
  ]},
 {"width": 177, "height": 89,
  "layer": [
   {"data": {"name": "b"}, "mark": {"type": "line", "strokeWidth": 1.3, "clip": true},
    "encoding": {
     "x": {"field": "t", "type": "quantitative", "scale": {"domain": [1998.25, 2014.65], "nice": false, "zero": false}, "axis": {"values": [2000,2002,2004,2006,2008,2010,2012,2014], "tickCount": 20, "format": "d", "title": null, "labelOverlap": false}},
     "y": {"field": "v", "type": "quantitative", "scale": {"domain": [-5.4, 17.6], "nice": false, "zero": false}, "axis": {"values": [-5,0,5,10,15], "tickCount": 20, "format": "d", "title": ["Area Decomposition", "(10⁶m²)"], "labelOverlap": false}},
     "color": {"field": "s", "type": "nominal", "scale": {"domain": ["Original","Rolling Average","Seasonal","Noise"], "range": ["#1d4e6e","#e8575a","#f5a623","#a9cde3"]}, "legend": null}
    }},
   {"data": {"values": [{"label": "(b)"}]}, "mark": {"type": "text", "fontWeight": "bold", "fontSize": 10, "align": "right", "baseline": "middle", "dx": -3, "dy": 13, "color": "#111"},
    "encoding": {"text": {"field": "label"}, "x": {"datum": 2014.65}, "y": {"datum": 17.6}}}
  ]},
 {"width": 88, "height": 89,
  "layer": [
   {"data": {"name": "c"}, "mark": {"type": "point", "filled": true, "size": 5, "color": "#e8575a", "opacity": 1, "clip": true},
    "encoding": {
     "x": {"field": "x", "type": "quantitative", "scale": {"domain": [5.8, 14.2], "nice": false, "zero": false}, "axis": {"values": [7.5, 10, 12.5], "tickCount": 20, "format": ".1f", "title": "Area Rolling Average (10⁶m²)", "labelOverlap": false}},
     "y": {"field": "y", "type": "quantitative", "scale": {"domain": [1.3, 42.4], "nice": false, "zero": false}, "axis": {"values": [10,20,30,40], "tickCount": 20, "format": "d", "title": ["Inflow Rolling Average", "(10⁶m³/month)"], "labelOverlap": false}}
    }},
   {"data": {"name": "creg"}, "mark": {"type": "line", "color": "#1b3b55", "strokeWidth": 1.1, "clip": true},
    "encoding": {"x": {"field": "x", "type": "quantitative"}, "y": {"field": "y", "type": "quantitative"}}},
   {"data": {"values": [{"label": "R²=0.68"}]}, "mark": {"type": "text", "fontSize": 7.5, "align": "left", "baseline": "middle", "color": "#222"},
    "encoding": {"text": {"field": "label"}, "x": {"datum": 7.05}, "y": {"datum": 23.2}}},
   {"data": {"values": [{"label": "(c)"}]}, "mark": {"type": "text", "fontWeight": "bold", "fontSize": 10, "align": "left", "baseline": "middle", "dx": 5, "dy": 14, "color": "#111"},
    "encoding": {"text": {"field": "label"}, "x": {"datum": 5.8}, "y": {"datum": 42.4}}}
  ]},
 {"width": 177, "height": 87,
  "layer": [
   {"data": {"name": "d"}, "mark": {"type": "line", "color": "#1d4e6e", "strokeWidth": 1.5, "clip": true},
    "encoding": {
     "x": {"field": "t", "type": "quantitative", "scale": {"domain": [2019.5, 2040.85], "nice": false, "zero": false}, "axis": {"values": [2020,2024,2028,2032,2036,2040], "tickCount": 20, "format": "d", "title": null, "labelOverlap": false}},
     "y": {"field": "v", "type": "quantitative", "scale": {"domain": [-3.4, 71.4], "nice": false, "zero": false}, "axis": {"values": [0,20,40,60], "tickCount": 20, "format": "d", "title": ["CMIP6 Inflow", "(10⁶m³/month)"], "labelOverlap": false}}
    }},
   {"data": {"values": [{"label": "(d)"}]}, "mark": {"type": "text", "fontWeight": "bold", "fontSize": 10, "align": "right", "baseline": "middle", "dx": -3, "dy": 13, "color": "#111"},
    "encoding": {"text": {"field": "label"}, "x": {"datum": 2040.85}, "y": {"datum": 71.4}}}
  ]},
 {"width": 176, "height": 87,
  "layer": [
   {"data": {"name": "e"}, "mark": {"type": "line", "color": "#e8575a", "strokeWidth": 1.2, "clip": true},
    "encoding": {
     "x": {"field": "t", "type": "quantitative", "scale": {"domain": [2019.05, 2040.2], "nice": false, "zero": false}, "axis": {"values": [2020,2024,2028,2032,2036,2040], "tickCount": 20, "format": "d", "title": null, "labelOverlap": false}},
     "y": {"field": "v", "type": "quantitative", "scale": {"domain": [2.5, 39.6], "nice": false, "zero": false}, "axis": {"values": [10,20,30], "tickCount": 20, "format": "d", "title": ["CMIP6 Inflow Rolling Average", "(10⁶m³/month)"], "labelOverlap": false}}
    }},
   {"data": {"name": "e"}, "mark": {"type": "line", "color": "#e8575a", "strokeWidth": 1.2, "clip": true},
    "encoding": {
     "x": {"field": "t", "type": "quantitative"},
     "y": {"field": "a", "type": "quantitative", "scale": {"domain": [5.8, 15.42], "nice": false, "zero": false}, "axis": {"orient": "right", "values": [8,10,12,14], "tickCount": 20, "format": "d", "title": ["Estimate Area Rolling Average", "(10⁶m²)"], "titleAngle": 270, "titleBaseline": "top", "labelOverlap": false}}
    }},
   {"data": {"values": [{"label": "(e)"}]}, "mark": {"type": "text", "fontWeight": "bold", "fontSize": 10, "align": "right", "baseline": "middle", "dx": -3, "dy": 15, "color": "#111"},
    "encoding": {"text": {"field": "label"}, "x": {"datum": 2040.2}, "y": {"datum": 39.6, "scale": {"domain": [2.5, 39.6], "nice": false, "zero": false}, "axis": null}}}
  ],
  "resolve": {"scale": {"y": "independent"}}},
 {"width": 177, "height": 87,
  "layer": [
   {"data": {"name": "f"}, "mark": {"type": "line", "color": "#1d4e6e", "strokeWidth": 1.5, "clip": true},
    "encoding": {
     "x": {"field": "t", "type": "quantitative", "scale": {"domain": [2019.5, 2040.85], "nice": false, "zero": false}, "axis": {"values": [2020,2024,2028,2032,2036,2040], "tickCount": 20, "format": "d", "title": null, "labelOverlap": false}},
     "y": {"field": "v", "type": "quantitative", "scale": {"domain": [3.5, 19.1], "nice": false, "zero": false}, "axis": {"values": [5,10,15], "tickCount": 20, "format": "d", "title": "Estimate Area (10⁶m²)", "labelOverlap": false}}
    }},
   {"data": {"values": [{"label": "(f)"}]}, "mark": {"type": "text", "fontWeight": "bold", "fontSize": 10, "align": "right", "baseline": "middle", "dx": -4, "dy": 16, "color": "#111"},
    "encoding": {"text": {"field": "label"}, "x": {"datum": 2040.85}, "y": {"datum": 19.1}}}
  ]}
]
}
